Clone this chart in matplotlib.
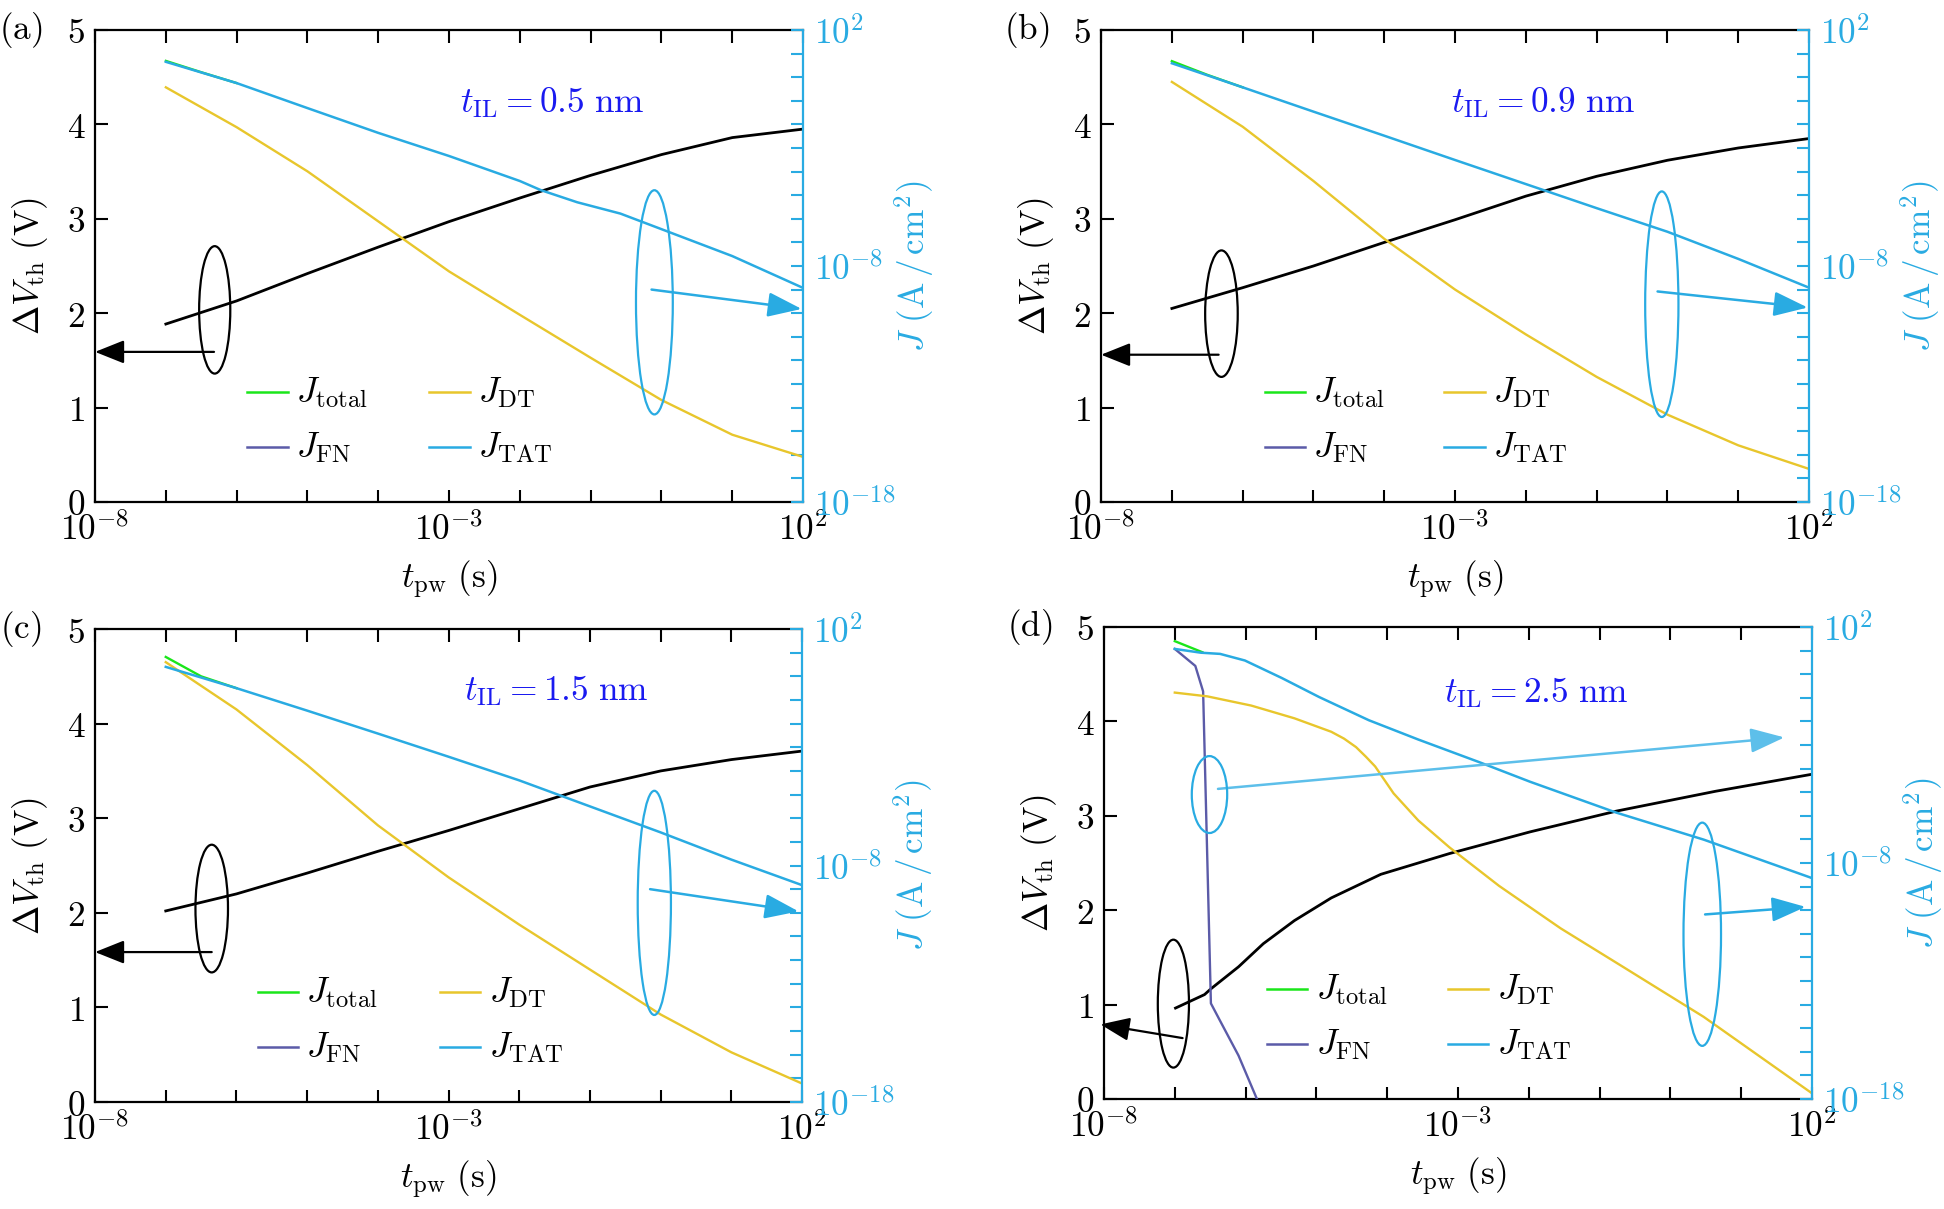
import numpy as np
import matplotlib
matplotlib.use('Agg')
import matplotlib.pyplot as plt
from matplotlib.patches import Ellipse
from matplotlib.lines import Line2D
from matplotlib.ticker import FixedLocator, FixedFormatter

plt.rcParams['mathtext.fontset'] = 'cm'
plt.rcParams['font.family'] = 'serif'
plt.rcParams['font.serif'] = ['DejaVu Serif']
FS = 12.7

CYAN = '#29ABE2'
GREEN = '#1AE61A'
YELLOW = '#E8C62C'
SLATE = '#5B5BA8'
TXTBLUE = '#1A1AF0'
LIGHTCYAN = '#5DBFEA'

panel_labels = ['(a)', '(b)', '(c)', '(d)']
til_values = ['0.5', '0.9', '1.5', '2.5']

# ---------------- panel (a) ----------------
a_dv_logt = [-7, -6, -5, -4, -3, -2, -1, 0, 1, 2]
a_dv = [1.885, 2.13, 2.42, 2.70, 2.97, 3.22, 3.46, 3.68, 3.86, 3.95]
a_tat_logt = [-7, -6, -5, -4, -3, -2, -1.7, -1.19, -0.58, 0, 1, 2]
a_tat = [0.65, -0.25, -1.31, -2.36, -3.34, -4.40, -4.79, -5.30, -5.78, -6.44, -7.58, -8.93]
a_tot_logt = [-7, -6.5, -6]
a_tot = [0.69, 0.21, -0.25]
a_dt_logt = [-7, -6, -5, -4, -3, -2, -1, 0, 1, 2]
a_dt = [-0.43, -2.12, -3.99, -6.11, -8.23, -10.07, -11.89, -13.68, -15.15, -16.09]

# ---------------- panel (b) ----------------
b_dv_logt = [-7, -6, -5, -4, -3, -2, -1, 0, 1, 2]
b_dv = [2.05, 2.27, 2.50, 2.75, 2.99, 3.24, 3.45, 3.62, 3.75, 3.85]
b_tat_logt = [-7, -6, -5, -4, -3, -2, -1, 0, 1, 2]
b_tat = [0.59, -0.43, -1.46, -2.48, -3.51, -4.53, -5.55, -6.55, -7.70, -8.92]
b_tot_logt = [-7, -6.5, -6]
b_tot = [0.68, 0.10, -0.43]
b_dt_logt = [-7, -6, -5, -4, -3, -2, -1, 0, 1, 2]
b_dt = [-0.20, -2.10, -4.40, -6.85, -9.00, -10.90, -12.70, -14.30, -15.60, -16.60]

# ---------------- panel (c) ----------------
c_dv_logt = [-7, -6, -5, -4, -3, -2, -1, 0, 1, 2]
c_dv = [2.02, 2.20, 2.42, 2.65, 2.87, 3.10, 3.33, 3.50, 3.62, 3.71]
c_tat_logt = [-7, -6, -5, -4, -3, -2, -1, 0, 1, 2]
c_tat = [0.40, -0.50, -1.45, -2.42, -3.40, -4.40, -5.50, -6.60, -7.75, -8.83]
c_tot_logt = [-7, -6.5, -6]
c_tot = [0.82, 0.0, -0.50]
c_dt_logt = [-7, -6, -5, -4, -3, -2, -1, 0, 1, 2]
c_dt = [0.60, -1.40, -3.75, -6.30, -8.50, -10.50, -12.40, -14.30, -15.90, -17.22]

# ---------------- panel (d) ----------------
d_dv_logt = [-6.99, -6.58, -6.49, -6.10, -5.75, -5.31, -4.79, -4.09, -3.12, -1.98, -0.76, 0.64, 2.0]
d_dv = [0.963, 1.106, 1.167, 1.40, 1.645, 1.89, 2.13, 2.38, 2.60, 2.83, 3.05, 3.26, 3.44]
d_tat_logt = [-7, -6.63, -6.36, -6.01, -5.49, -4.96, -4.26, -3.56, -2.68, -1.98, -0.76, 0.47, 2.0]
d_tat = [1.07, 0.91, 0.86, 0.58, -0.16, -0.97, -1.95, -2.77, -3.75, -4.56, -5.87, -7.01, -8.64]
d_tot_logt = [-7, -6.61]
d_tot = [1.40, 0.93]
d_dt_logt = [-7, -6.54, -5.92, -5.31, -4.79, -4.61, -4.44, -4.30, -4.17, -3.91, -3.56, -3.12,
             -2.42, -1.55, -0.67, 0.47, 2.0]
d_dt = [-0.78, -0.94, -1.33, -1.87, -2.44, -2.73, -3.09, -3.50, -3.91, -5.05, -6.20, -7.34,
        -8.97, -10.77, -12.40, -14.52, -17.76]
d_fn_logt = [-7, -6.71, -6.60, -6.49, -6.36, -6.10, -5.84]
d_fn = [1.07, 0.35, -0.73, -13.95, -14.69, -16.16, -18.0]

panels = [
    dict(rect=[0.0489, 0.5848, 0.3642, 0.3904],
         dv=(a_dv_logt, a_dv), tat=(a_tat_logt, a_tat), tot=(a_tot_logt, a_tot),
         dt=(a_dt_logt, a_dt), fn=None,
         black_ell=(0.169, 0.407, 0.044, 0.270), black_arr=((0.168, 0.318), (0.0, 0.318)),
         blue_ell=[(0.790, 0.423, 0.052, 0.475)], blue_arr=[((0.786, 0.450), (0.998, 0.409), CYAN)],
         text=(0.646, 0.847), leg_x=(0.215, 0.472)),
    dict(rect=[0.5664, 0.5848, 0.3642, 0.3904],
         dv=(b_dv_logt, b_dv), tat=(b_tat_logt, b_tat), tot=(b_tot_logt, b_tot),
         dt=(b_dt_logt, b_dt), fn=None,
         black_ell=(0.170, 0.399, 0.046, 0.268), black_arr=((0.166, 0.312), (0.0, 0.312)),
         blue_ell=[(0.792, 0.419, 0.047, 0.478)], blue_arr=[((0.786, 0.446), (0.998, 0.412), CYAN)],
         text=(0.625, 0.846), leg_x=(0.231, 0.485)),
    dict(rect=[0.0489, 0.0885, 0.3637, 0.3912],
         dv=(c_dv_logt, c_dv), tat=(c_tat_logt, c_tat), tot=(c_tot_logt, c_tot),
         dt=(c_dt_logt, c_dt), fn=None,
         black_ell=(0.165, 0.409, 0.046, 0.270), black_arr=((0.165, 0.317), (0.0, 0.317)),
         blue_ell=[(0.791, 0.421, 0.047, 0.474)], blue_arr=[((0.785, 0.450), (0.995, 0.403), CYAN)],
         text=(0.652, 0.870), leg_x=(0.230, 0.488)),
    dict(rect=[0.5679, 0.0910, 0.3642, 0.3904],
         dv=(d_dv_logt, d_dv), tat=(d_tat_logt, d_tat), tot=(d_tot_logt, d_tot),
         dt=(d_dt_logt, d_dt), fn=(d_fn_logt, d_fn),
         black_ell=(0.098, 0.202, 0.044, 0.271), black_arr=((0.111, 0.129), (-0.005, 0.158)),
         blue_ell=[(0.149, 0.645, 0.050, 0.163), (0.845, 0.349, 0.053, 0.473)],
         blue_arr=[((0.161, 0.657), (0.961, 0.766), LIGHTCYAN), ((0.849, 0.391), (0.991, 0.407), CYAN)],
         text=(0.611, 0.862), leg_x=(0.230, 0.486)),
]

fig = plt.figure(figsize=(9.72, 6.045), dpi=200)

xt = 10.0 ** np.arange(-8, 3)
xt_lab = ['' for _ in xt]
xt_lab[0] = r'$10^{-8}$'
xt_lab[5] = r'$10^{-3}$'
xt_lab[10] = r'$10^{2}$'
yt2 = 10.0 ** np.arange(-18, 3)
yt2_lab = ['' for _ in yt2]
yt2_lab[0] = r'$10^{-18}$'
yt2_lab[10] = r'$10^{-8}$'
yt2_lab[20] = r'$10^{2}$'

for i, p in enumerate(panels):
    ax = fig.add_axes(p['rect'])
    ax2 = ax.twinx()
    ax.set_xscale('log')
    ax.set_xlim(1e-8, 1e2)
    ax.set_ylim(0, 5)
    ax2.set_yscale('log')
    ax2.set_ylim(1e-18, 1e2)

    ax.xaxis.set_major_locator(FixedLocator(xt))
    ax.xaxis.set_major_formatter(FixedFormatter(xt_lab))
    ax.xaxis.set_minor_locator(FixedLocator([]))
    ax.yaxis.set_major_locator(FixedLocator([0, 1, 2, 3, 4, 5]))
    ax.yaxis.set_major_formatter(FixedFormatter([r'$%d$' % v for v in range(6)]))
    ax2.yaxis.set_major_locator(FixedLocator(yt2))
    ax2.yaxis.set_major_formatter(FixedFormatter(yt2_lab))
    ax2.yaxis.set_minor_locator(FixedLocator([]))

    ax.tick_params(axis='x', which='major', direction='in', top=True, bottom=True,
                   length=4.5, width=0.75, labelsize=FS, pad=3.5)
    ax.tick_params(axis='y', which='major', direction='in', left=True, right=False,
                   length=4.5, width=0.75, labelsize=FS, pad=3.5)
    ax2.tick_params(axis='y', which='major', direction='in', right=True, left=False,
                    length=4.5, width=0.75, labelsize=FS, pad=4, colors=CYAN)
    for s in ['left', 'top', 'bottom']:
        ax.spines[s].set_linewidth(0.8)
        ax2.spines[s].set_visible(False)
    ax.spines['right'].set_visible(False)
    ax2.spines['right'].set_color(CYAN)
    ax2.spines['right'].set_linewidth(0.8)

    # data
    x, y = p['dv']
    ax.plot(10.0 ** np.array(x), y, color='black', lw=1.0, zorder=3)
    if p['fn'] is not None:
        x, y = p['fn']
        ax2.plot(10.0 ** np.array(x), 10.0 ** np.array(y), color=SLATE, lw=0.85, clip_on=True)
    x, y = p['dt']
    ax2.plot(10.0 ** np.array(x), 10.0 ** np.array(y), color=YELLOW, lw=0.85)
    x, y = p['tot']
    ax2.plot(10.0 ** np.array(x), 10.0 ** np.array(y), color=GREEN, lw=0.85)
    x, y = p['tat']
    ax2.plot(10.0 ** np.array(x), 10.0 ** np.array(y), color=CYAN, lw=0.9)

    # annotations
    cx, cy, w, h = p['black_ell']
    ax2.add_patch(Ellipse((cx, cy), w, h, transform=ax2.transAxes, fill=False,
                          edgecolor='black', lw=0.8, zorder=5))
    (sx, sy), (tx, ty) = p['black_arr']
    ax2.annotate('', xy=(tx, ty), xytext=(sx, sy), xycoords='axes fraction',
                 textcoords='axes fraction', annotation_clip=False,
                 arrowprops=dict(arrowstyle='-|>,head_length=0.5,head_width=0.2',
                                 color='black', lw=0.8, mutation_scale=18,
                                 shrinkA=0, shrinkB=0))
    for (cx, cy, w, h) in p['blue_ell']:
        ax2.add_patch(Ellipse((cx, cy), w, h, transform=ax2.transAxes, fill=False,
                              edgecolor=CYAN, lw=0.8, zorder=5))
    for (sx, sy), (tx, ty), col in p['blue_arr']:
        ax2.annotate('', xy=(tx, ty), xytext=(sx, sy), xycoords='axes fraction',
                     textcoords='axes fraction', annotation_clip=False,
                     arrowprops=dict(arrowstyle='-|>,head_length=0.55,head_width=0.2',
                                     color=col, lw=0.9, mutation_scale=19,
                                     shrinkA=0, shrinkB=0))

    tx, ty = p['text']
    ax2.text(tx, ty, r'$t_{\rm IL}=%s\ \mathrm{nm}$' % til_values[i], transform=ax2.transAxes,
             ha='center', va='center', fontsize=FS, color=TXTBLUE)

    # legend (manual layout, two columns)
    lx1, lx2 = p['leg_x']
    hl = 0.057
    rows = (0.232, 0.116)
    entries = [(lx1, rows[0], GREEN, r'$J_{\rm total}$'), (lx2, rows[0], YELLOW, r'$J_{\rm DT}$'),
               (lx1, rows[1], SLATE, r'$J_{\rm FN}$'), (lx2, rows[1], CYAN, r'$J_{\rm TAT}$')]
    for ex, ey, col, lab in entries:
        ax2.add_line(Line2D([ex, ex + hl], [ey, ey], transform=ax2.transAxes, color=col, lw=0.9))
        ax2.text(ex + hl + 0.012, ey, lab, transform=ax2.transAxes, ha='left', va='center',
                 fontsize=FS)

    ax.set_xlabel(r'$t_{\rm pw}\ (\mathrm{s})$', fontsize=FS, labelpad=4.5)
    ax.set_ylabel(r'$\Delta V_{\rm th}\ (\mathrm{V})$', fontsize=FS, labelpad=6)
    ax2.set_ylabel(r'$J\ (\mathrm{A\,/\,cm^2})$', fontsize=FS, color=CYAN, labelpad=-1.0)
    ax.text(-0.105, 1.0, r'$\mathrm{(%s)}$' % 'abcd'[i], transform=ax.transAxes,
            ha='center', va='center', fontsize=FS)

fig.savefig('out.png', dpi=200)
